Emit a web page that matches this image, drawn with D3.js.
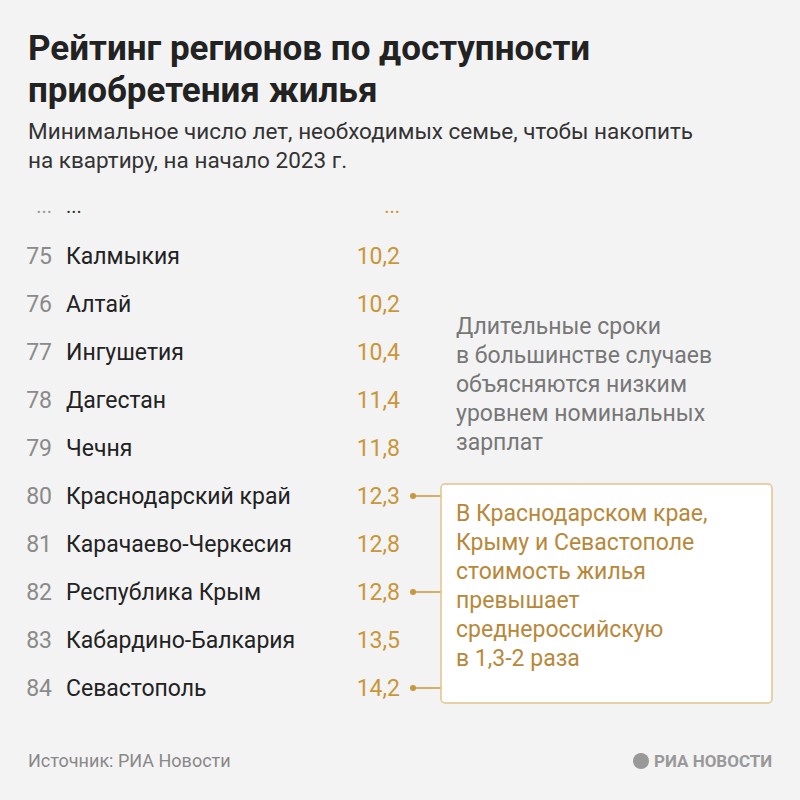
<!DOCTYPE html>
<html><head><meta charset="utf-8">
<script src="https://cdn.jsdelivr.net/npm/d3@7"></script>
<style>body{margin:0;background:#f3f3f3;font-family:Roboto,"Noto Sans",sans-serif}</style>
</head><body><svg id="c" width="800" height="800"></svg>
<script>
const ranks = [75, 76, 77, 78, 79, 80, 81, 82, 83, 84];
const regions = ["Калмыкия", "Алтай", "Ингушетия", "Дагестан", "Чечня", "Краснодарский край",
  "Карачаево-Черкесия", "Республика Крым", "Кабардино-Балкария", "Севастополь"];
const years = [10.2, 10.2, 10.4, 11.4, 11.8, 12.3, 12.8, 12.8, 13.5, 14.2];
const highlighted = ["Краснодарский край", "Республика Крым", "Севастополь"];

const svg = d3.select("#c");
svg.append("rect").attr("width", 800).attr("height", 800).attr("fill", "#f3f3f3");
const gold = "#c8973a";

// title
[["Рейтинг регионов по доступности", 60], ["приобретения жилья", 102]].forEach(([t, y]) =>
  svg.append("text").attr("x", 28).attr("y", y).attr("font-size", 35).attr("font-weight", 700)
    .attr("fill", "#222").text(t));
[["Минимальное число лет, необходимых семье, чтобы накопить", 139], ["на квартиру, на начало 2023 г.", 168]].forEach(([t, y]) =>
  svg.append("text").attr("x", 28).attr("y", y).attr("font-size", 22.5).attr("fill", "#333").text(t));

const y = d3.scaleBand().domain(d3.range(-1, ranks.length)).range([184, 712]);
const fmt = v => d3.format(".1f")(v).replace(".", ",");

// ellipsis row
const ey = y(-1) + y.bandwidth() / 2 + 5;
svg.append("text").attr("x", 52).attr("y", ey).attr("text-anchor", "end")
  .attr("fill", "#999").attr("font-size", 20).text("...");
svg.append("text").attr("x", 66).attr("y", ey).attr("fill", "#333").attr("font-size", 20).text("...");
svg.append("text").attr("x", 400).attr("y", ey).attr("text-anchor", "end")
  .attr("fill", gold).attr("font-size", 20).text("...");

const rows = svg.selectAll("g.row").data(ranks).join("g").attr("class", "row")
  .attr("transform", (d, i) => `translate(0,${y(i) + y.bandwidth() / 2 + 8})`);
rows.append("text").attr("x", 52).attr("text-anchor", "end").attr("font-size", 23).attr("fill", "#8a8a8a").text(d => d);
rows.append("text").attr("x", 66).attr("font-size", 23).attr("fill", "#222").text((d, i) => regions[i]);
rows.append("text").attr("x", 400).attr("text-anchor", "end").attr("font-size", 23).attr("fill", gold).text((d, i) => fmt(years[i]));

// note
["Длительные сроки", "в большинстве случаев", "объясняются низким", "уровнем номинальных", "зарплат"]
  .forEach((t, i) => svg.append("text").attr("x", 456).attr("y", 334 + i * 29).attr("font-size", 23)
    .attr("fill", "#777").text(t));

// connectors
highlighted.forEach(r => {
  const i = regions.indexOf(r), cy = y(i) + y.bandwidth() / 2;
  svg.append("line").attr("x1", 413).attr("x2", 441).attr("y1", cy).attr("y2", cy).attr("stroke", gold).attr("stroke-width", 1.5);
  svg.append("circle").attr("cx", 413).attr("cy", cy).attr("r", 3).attr("fill", gold);
});

// box
svg.append("rect").attr("x", 441).attr("y", 484).attr("width", 331).attr("height", 219).attr("rx", 4)
  .attr("fill", "#fff").attr("stroke", "#e3c48a").attr("stroke-width", 1.5);
["В Краснодарском крае,", "Крыму и Севастополе", "стоимость жилья", "превышает", "среднероссийскую", "в 1,3-2 раза"]
  .forEach((t, i) => svg.append("text").attr("x", 456).attr("y", 521 + i * 29).attr("font-size", 23)
    .attr("fill", "#b8883a").text(t));

// footer
svg.append("text").attr("x", 28).attr("y", 767).attr("font-size", 18).attr("fill", "#888").text("Источник: РИА Новости");
svg.append("circle").attr("cx", 641).attr("cy", 761).attr("r", 8).attr("fill", "#999");
svg.append("text").attr("x", 654).attr("y", 767).attr("font-size", 17).attr("font-weight", 700)
  .attr("fill", "#999").text("РИА НОВОСТИ");
</script></body></html>
